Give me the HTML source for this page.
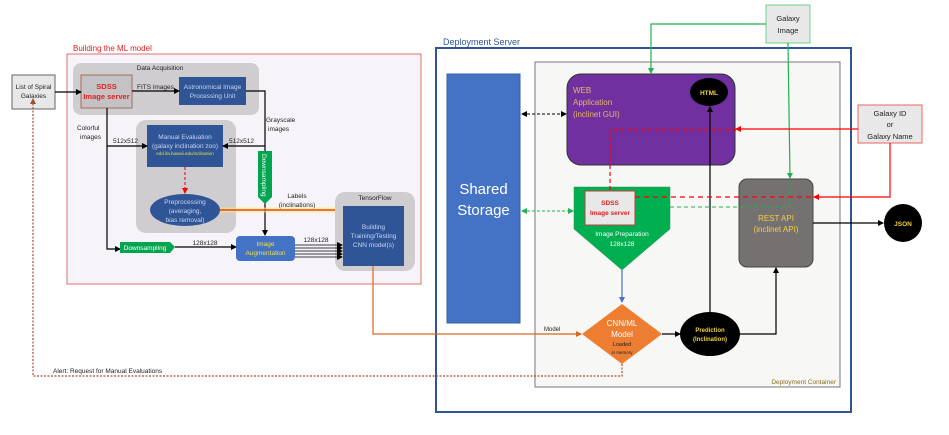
<!DOCTYPE html>
<html><head><meta charset="utf-8"><style>
html,body{margin:0;padding:0;background:#fff}
svg{display:block;font-family:"Liberation Sans",sans-serif}
</style></head><body>
<svg width="949" height="435" viewBox="0 0 949 435" xmlns="http://www.w3.org/2000/svg">
<defs>
<marker id="ak" markerWidth="6" markerHeight="6" refX="5" refY="3" orient="auto" markerUnits="userSpaceOnUse"><path d="M0,0 L6,3 L0,6z" fill="#000"/></marker>
<marker id="aks" markerWidth="6" markerHeight="6" refX="1" refY="3" orient="auto" markerUnits="userSpaceOnUse"><path d="M6,0 L0,3 L6,6z" fill="#000"/></marker>
<marker id="ag" markerWidth="6" markerHeight="6" refX="5" refY="3" orient="auto" markerUnits="userSpaceOnUse"><path d="M0,0 L6,3 L0,6z" fill="#22b050"/></marker>
<marker id="ags" markerWidth="6" markerHeight="6" refX="1" refY="3" orient="auto" markerUnits="userSpaceOnUse"><path d="M6,0 L0,3 L6,6z" fill="#22b050"/></marker>
<marker id="ar" markerWidth="6" markerHeight="6" refX="5" refY="3" orient="auto" markerUnits="userSpaceOnUse"><path d="M0,0 L6,3 L0,6z" fill="#f00"/></marker>
<marker id="ao" markerWidth="6" markerHeight="6" refX="5" refY="3" orient="auto" markerUnits="userSpaceOnUse"><path d="M0,0 L6,3 L0,6z" fill="#d9661f"/></marker>
<marker id="ab" markerWidth="6" markerHeight="6" refX="5" refY="3" orient="auto" markerUnits="userSpaceOnUse"><path d="M0,0 L6,3 L0,6z" fill="#4472c4"/></marker>
<marker id="abr" markerWidth="6" markerHeight="6" refX="5" refY="3" orient="auto" markerUnits="userSpaceOnUse"><path d="M0,0 L6,3 L0,6z" fill="#a0522d"/></marker>
</defs>

<!-- Left: Building ML model -->
<text x="73" y="51" font-size="8" fill="#e02020">Building the ML model</text>
<rect x="67" y="54" width="354" height="230" fill="#f6f4f9" stroke="#e07070" stroke-width="1"/>
<rect x="12" y="75" width="43" height="34" fill="#e8e8e8" stroke="#666" stroke-width="1"/>
<text x="33.5" y="89" font-size="6.5" text-anchor="middle" fill="#222">List of Spiral</text>
<text x="33.5" y="98" font-size="6.5" text-anchor="middle" fill="#222">Galaxies</text>

<rect x="73" y="63" width="186" height="52" rx="8" fill="#d0cdd0"/>
<text x="160" y="70" font-size="6.5" text-anchor="middle" fill="#222">Data Acquisition</text>
<rect x="81" y="75" width="51" height="33" fill="#c4c2c4" stroke="#a0705a" stroke-width="1"/>
<text x="106.5" y="89" font-size="7.5" font-weight="bold" text-anchor="middle" fill="#e02020">SDSS</text>
<text x="106.5" y="99" font-size="7.5" font-weight="bold" text-anchor="middle" fill="#e02020">Image server</text>
<rect x="179" y="77" width="67" height="28" fill="#2f5597"/>
<text x="212.5" y="89" font-size="6.5" text-anchor="middle" fill="#c8d4f0">Astronomical Image</text>
<text x="212.5" y="98" font-size="6.5" text-anchor="middle" fill="#c8d4f0">Processing Unit</text>
<line x1="55" y1="92" x2="81" y2="92" stroke="#000" stroke-width="1.2" marker-end="url(#ak)"/>
<line x1="132" y1="91" x2="179" y2="91" stroke="#000" stroke-width="1.2" marker-end="url(#ak)"/>
<text x="137" y="89" font-size="6.5" fill="#222">FITS images</text>

<rect x="136" y="120" width="100" height="113" rx="10" fill="#d0cdd0"/>
<rect x="147" y="125" width="76" height="42" fill="#2f5597"/>
<text x="185" y="139" font-size="6.5" text-anchor="middle" fill="#c8d4f0">Manual Evaluation</text>
<text x="185" y="148" font-size="6.5" text-anchor="middle" fill="#c8d4f0">(galaxy inclination zoo)</text>
<text x="185" y="155" font-size="4.5" text-anchor="middle" fill="#e8e040">edd.ifa.hawaii.edu/inclination</text>
<ellipse cx="185" cy="210" rx="35" ry="16" fill="#2f5597"/>
<text x="185" y="204" font-size="6.5" text-anchor="middle" fill="#c8d4f0">Preprocessing</text>
<text x="185" y="213" font-size="6.5" text-anchor="middle" fill="#c8d4f0">(averaging,</text>
<text x="185" y="222" font-size="6.5" text-anchor="middle" fill="#c8d4f0">bias removal)</text>
<line x1="185" y1="167" x2="185" y2="193" stroke="#e02020" stroke-width="1.2" stroke-dasharray="3,2" marker-end="url(#ar)"/>

<text x="77" y="130" font-size="6.5" fill="#222">Colorful</text>
<text x="80" y="139" font-size="6.5" fill="#222">images</text>
<text x="266" y="122" font-size="6.5" fill="#222">Grayscale</text>
<text x="268" y="131" font-size="6.5" fill="#222">images</text>

<polyline points="107,108 107,249 120,249" fill="none" stroke="#000" stroke-width="1.2" marker-end="url(#ak)"/>
<line x1="107" y1="146" x2="147" y2="146" stroke="#000" stroke-width="1.2" marker-end="url(#ak)"/>
<text x="113" y="143" font-size="6.5" fill="#222">512x512</text>
<polyline points="246,91 265,91 265,235" fill="none" stroke="#000" stroke-width="1.2" marker-end="url(#ak)"/>
<line x1="265" y1="146" x2="223" y2="146" stroke="#000" stroke-width="1.2" marker-end="url(#ak)"/>
<text x="229" y="143" font-size="6.5" fill="#222">512x512</text>

<path d="M258,151 L272,151 L272,197 L265,204 L258,197z" fill="#00a550"/>
<text transform="translate(262,154) rotate(90)" font-size="6.5" fill="#fff">Downsampling</text>

<line x1="220" y1="210" x2="342" y2="210" stroke="#ffee66" stroke-width="5" opacity="0.6"/>
<line x1="220" y1="210" x2="342" y2="210" stroke="#e02020" stroke-width="1.2" marker-end="url(#ar)"/>
<text x="297" y="198" font-size="6.5" text-anchor="middle" fill="#222">Labels</text>
<text x="297" y="207" font-size="6.5" text-anchor="middle" fill="#222">(inclinations)</text>

<rect x="335" y="192" width="80" height="79" rx="10" fill="#d0cdd0"/>
<text x="375" y="200" font-size="6.5" text-anchor="middle" fill="#222">TensorFlow</text>
<rect x="343" y="206" width="61" height="60" fill="#2f5597"/>
<text x="373.5" y="229" font-size="6.5" text-anchor="middle" fill="#c8d4f0">Building</text>
<text x="373.5" y="238" font-size="6.5" text-anchor="middle" fill="#c8d4f0">Training/Testing</text>
<text x="373.5" y="247" font-size="6.5" text-anchor="middle" fill="#c8d4f0">CNN model(s)</text>

<path d="M120,242 L170,242 L175,247 L170,253 L120,253z" fill="#00a550"/>
<text x="145" y="250" font-size="6.5" text-anchor="middle" fill="#fff">Downsampling</text>
<line x1="175" y1="247" x2="236" y2="247" stroke="#000" stroke-width="1.2" marker-end="url(#ak)"/>
<text x="205" y="245" font-size="6.5" text-anchor="middle" fill="#222">128x128</text>
<rect x="236" y="236" width="59" height="25" rx="4" fill="#4472c4"/>
<text x="265.5" y="246" font-size="6.5" text-anchor="middle" fill="#f0e040">Image</text>
<text x="265.5" y="255" font-size="6.5" text-anchor="middle" fill="#f0e040">Augmentation</text>
<g stroke="#000" stroke-width="0.8">
<line x1="295" y1="245" x2="342" y2="245" marker-end="url(#ak)"/>
<line x1="295" y1="248" x2="342" y2="248" marker-end="url(#ak)"/>
<line x1="295" y1="251" x2="342" y2="251" marker-end="url(#ak)"/>
<line x1="295" y1="254" x2="342" y2="254" marker-end="url(#ak)"/>
<line x1="295" y1="257" x2="342" y2="257" marker-end="url(#ak)"/>
</g>
<text x="316" y="242" font-size="6.5" text-anchor="middle" fill="#222">128x128</text>

<!-- Deployment server -->
<text x="443" y="45" font-size="9" fill="#2f5597">Deployment Server</text>
<rect x="436" y="48" width="415" height="364" fill="#fff" stroke="#2f5597" stroke-width="2"/>
<rect x="535" y="62" width="305" height="325" fill="#f7f7f5" stroke="#777" stroke-width="1"/>
<text x="836" y="384" font-size="6.5" text-anchor="end" fill="#8a7020">Deployment Container</text>
<rect x="447" y="74" width="73" height="249" fill="#4472c4" stroke="#3a62a8" stroke-width="1"/>
<text x="483.5" y="194" font-size="15" text-anchor="middle" fill="#fff">Shared</text>
<text x="483.5" y="215" font-size="15" text-anchor="middle" fill="#fff">Storage</text>

<rect x="567" y="74" width="168" height="91" rx="14" fill="#7030a0" stroke="#333" stroke-width="1"/>
<text x="573" y="93" font-size="8" fill="#e8b860">WEB</text>
<text x="573" y="105" font-size="8" fill="#e8b860">Application</text>
<text x="573" y="117" font-size="8" fill="#e8b860">(inclinet GUI)</text>
<ellipse cx="709" cy="92" rx="19" ry="14" fill="#000"/>
<text x="709" y="95" font-size="6.5" font-weight="bold" text-anchor="middle" fill="#f0d040">HTML</text>

<line x1="522" y1="114" x2="566" y2="114" stroke="#000" stroke-width="1" stroke-dasharray="3,2" marker-start="url(#aks)" marker-end="url(#ak)"/>
<line x1="522" y1="211" x2="573" y2="211" stroke="#22b050" stroke-width="1" stroke-dasharray="3,2" marker-start="url(#ags)" marker-end="url(#ag)"/>

<rect x="739" y="179" width="74" height="88" rx="8" fill="#767171" stroke="#444" stroke-width="1"/>
<text x="776" y="221" font-size="8" text-anchor="middle" fill="#f0d040">REST API</text>
<text x="776" y="232" font-size="8" text-anchor="middle" fill="#f0d040">(inclinet API)</text>
<circle cx="903" cy="223" r="19" fill="#000"/>
<text x="903" y="226" font-size="6.5" font-weight="bold" text-anchor="middle" fill="#f0d040">JSON</text>
<line x1="813" y1="223" x2="883" y2="223" stroke="#000" stroke-width="1.2" marker-end="url(#ak)"/>

<path d="M574,187 L670,187 L670,229 L622,270 L574,229z" fill="#00b050" stroke="#2a9050" stroke-width="0.5"/>
<rect x="585" y="191" width="50" height="34" fill="#e8e8e8" stroke="#c04040" stroke-width="1"/>
<text x="610" y="205" font-size="6.5" font-weight="bold" text-anchor="middle" fill="#e02020">SDSS</text>
<text x="610" y="215" font-size="6.5" font-weight="bold" text-anchor="middle" fill="#e02020">Image server</text>
<text x="622" y="236" font-size="6.5" text-anchor="middle" fill="#fff">Image Preparation</text>
<text x="622" y="246" font-size="6.5" text-anchor="middle" fill="#fff">128x128</text>
<line x1="622" y1="270" x2="622" y2="302" stroke="#4472c4" stroke-width="1.2" marker-end="url(#ab)"/>

<path d="M622,304 L662,334 L622,364 L582,334z" fill="#ed7d31"/>
<text x="622" y="326" font-size="8" text-anchor="middle" fill="#fff">CNN/ML</text>
<text x="622" y="337" font-size="8" text-anchor="middle" fill="#fff">Model</text>
<text x="622" y="346" font-size="5.5" text-anchor="middle" fill="#222">Loaded</text>
<text x="622" y="354" font-size="4.5" text-anchor="middle" fill="#222">in memory</text>
<line x1="662" y1="334" x2="680" y2="334" stroke="#000" stroke-width="1.2" marker-end="url(#ak)"/>
<ellipse cx="710" cy="334" rx="30" ry="22" fill="#000"/>
<text x="710" y="332" font-size="6" font-weight="bold" text-anchor="middle" fill="#f0d040">Prediction</text>
<text x="710" y="341" font-size="6" font-weight="bold" text-anchor="middle" fill="#f0d040">(Inclination)</text>
<line x1="710" y1="312" x2="710" y2="107" stroke="#000" stroke-width="1.2" marker-end="url(#ak)"/>
<polyline points="740,334 776,334 776,268" fill="none" stroke="#000" stroke-width="1.2" marker-end="url(#ak)"/>

<rect x="766" y="5" width="44" height="38" fill="#e8e8e8" stroke="#70d090" stroke-width="1"/>
<text x="788" y="21" font-size="7.5" text-anchor="middle" fill="#222">Galaxy</text>
<text x="788" y="33" font-size="7.5" text-anchor="middle" fill="#222">Image</text>
<polyline points="766,24 651,24 651,73" fill="none" stroke="#22b050" stroke-width="1.2" marker-end="url(#ag)"/>
<line x1="788" y1="43" x2="790" y2="178" stroke="#22b050" stroke-width="1.2" marker-end="url(#ag)"/>
<polyline points="670,207 790,207 790,180" fill="none" stroke="#22b050" stroke-width="1" stroke-dasharray="4,3"/>

<rect x="858" y="105" width="64" height="38" fill="#e8e8e8" stroke="#f06060" stroke-width="1"/>
<text x="890" y="116" font-size="7.5" text-anchor="middle" fill="#222">Galaxy ID</text>
<text x="890" y="127" font-size="7.5" text-anchor="middle" fill="#222">or</text>
<text x="890" y="139" font-size="7.5" text-anchor="middle" fill="#222">Galaxy Name</text>
<line x1="858" y1="129" x2="736" y2="129" stroke="#f00" stroke-width="1.2" marker-end="url(#ar)"/>
<polyline points="736,130 610,130 610,191" fill="none" stroke="#f00" stroke-width="1.2" stroke-dasharray="4,3"/>
<polyline points="890,143 890,197 814,197" fill="none" stroke="#f00" stroke-width="1.2" marker-end="url(#ar)"/>
<line x1="635" y1="197" x2="812" y2="197" stroke="#f00" stroke-width="1.2" stroke-dasharray="5,4"/>

<!-- model / alert -->
<polyline points="373,266 373,334 581,334" fill="none" stroke="#d9661f" stroke-width="1.2" marker-end="url(#ao)"/>
<text x="544" y="331" font-size="6" fill="#222">Model</text>
<polyline points="622,364 622,376 33,376 33,99" fill="none" stroke="#a0522d" stroke-width="1.2" stroke-dasharray="2,1.5" marker-end="url(#abr)"/>
<text x="53" y="373" font-size="6.5" fill="#222">Alert: Request for Manual Evaluations</text>
</svg>
</body></html>
